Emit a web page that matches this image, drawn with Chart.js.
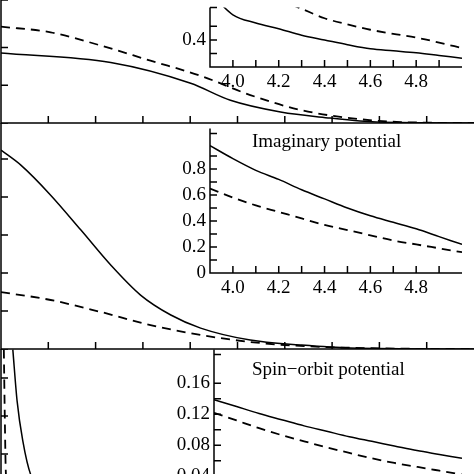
<!DOCTYPE html>
<html><head><meta charset="utf-8">
<script src="https://cdn.jsdelivr.net/npm/chart.js@4.4.1/dist/chart.umd.min.js"></script>
<style>
body{margin:0;width:474px;height:474px;overflow:hidden;background:#fff;position:relative;font-family:"Liberation Serif",serif}
canvas{position:absolute}
.lbl{position:absolute;font-size:19px;color:#000;white-space:nowrap;background:transparent}
</style></head><body>
<canvas id="p1" style="left:0;top:0;width:474px;height:124px"></canvas>
<canvas id="p2" style="left:0;top:123px;width:474px;height:227px"></canvas>
<canvas id="p3" style="left:0;top:349px;width:474px;height:144px"></canvas>
<canvas id="i1" style="left:165px;top:-8px;width:301px;height:103px"></canvas>
<canvas id="i2" style="left:165px;top:118px;width:301px;height:183px"></canvas>
<canvas id="i3" style="left:169px;top:339px;width:297px;height:196px"></canvas>
<div class="lbl" style="left:252px;top:130px">Imaginary potential</div>
<div class="lbl" style="left:252px;top:358px">Spin−orbit potential</div>
<script>
// Main panel 1 (real potential)
const p1SolidX=[0,2.32,4.01,4.85,5.91,6.96,7.59,8.44,10];
const p1SolidY=[0.37,0.32,0.21,0.12,0.058,0.026,0.011,0.002,0];
const p1DashX=[0,1.05,2.11,3.16,4.22,5.27,6.33,7.38,8.44,10];
const p1DashY=[0.51,0.48,0.41,0.33,0.25,0.148,0.069,0.026,0.005,0];
// Main panel 2 (imaginary)
const p2SolidX=[0,0.42,1.05,1.69,2.32,2.95,3.59,4.22,5.27,6.33,7.38,10];
const p2SolidY=[1.047,0.968,0.81,0.626,0.442,0.284,0.179,0.11,0.047,0.021,0.005,0];
const p2DashX=[0,1.05,2.11,3.16,4.22,5.27,6.33,8.44,10];
const p2DashY=[0.3,0.258,0.195,0.126,0.074,0.037,0.016,0.002,0];
// Main panel 3 (spin-orbit)
const p3SolidX=[0.25,0.34,0.46,0.63,0.95,2,10];
const p3SolidY=[0.75,0.48,0.27,0.09,0.01,0,0];
const p3DashX=[0.06,0.08,0.105,0.2];
const p3DashY=[0.75,0.4,0.09,0];
// Insets
const insX=[3.9,4.0,4.1,4.2,4.3,4.4,4.5,4.6,4.7,4.8,4.9,5.0];
const i1Solid=[1.1,0.77,0.65,0.565,0.47,0.40,0.33,0.27,0.24,0.21,0.17,0.13];
const i1Dash=[1.5,1.35,1.18,1.0,0.86,0.72,0.63,0.55,0.49,0.435,0.36,0.28];
const i2Solid=[0.98,0.88,0.79,0.72,0.64,0.57,0.5,0.44,0.39,0.34,0.28,0.22];
const i2Dash=[0.65,0.58,0.52,0.47,0.42,0.37,0.33,0.29,0.25,0.22,0.19,0.16];
const i3Solid=[0.139,0.13,0.121,0.113,0.105,0.098,0.091,0.085,0.079,0.073,0.068,0.063];
const i3Dash=[0.122,0.112,0.102,0.093,0.085,0.077,0.07,0.063,0.057,0.052,0.047,0.042];

const inTicks={id:'inTicks',afterDraw(c){
  const o=c.options.plugins.inTicks;if(!o)return;
  const ctx=c.ctx,ca=c.chartArea;ctx.save();ctx.strokeStyle='#000';ctx.lineWidth=1.5;
  const xs=c.scales.x,ys=c.scales.y;
  ctx.beginPath();ctx.moveTo(ca.left,ca.top-(o.extTop||0));ctx.lineTo(ca.left,ca.bottom);ctx.lineTo(ca.right,ca.bottom);ctx.stroke();
  ctx.beginPath();
  xs.ticks.forEach(t=>{const p=xs.getPixelForValue(t.value);if(p<ca.left+2||p>ca.right-1)return;ctx.moveTo(p,ca.bottom);ctx.lineTo(p,ca.bottom-(o.len||7));});
  ys.ticks.forEach(t=>{const p=ys.getPixelForValue(t.value);if(p>ca.bottom-2||p<ca.top)return;ctx.moveTo(ca.left,p);ctx.lineTo(ca.left+(o.len||7),p);});
  ctx.stroke();ctx.restore();}};
Chart.register(inTicks);

function ds(x,y,dash){return{data:x.map((v,i)=>({x:v,y:y[i]})),borderColor:'#000',borderWidth:dash?1.8:1.5,borderDash:dash?[9,6]:[],pointRadius:0,tension:0.4,cubicInterpolationMode:'monotone',fill:false};}
const font={family:'"Liberation Serif", serif',size:19};

function main(id,sx,sy,dx,dy,ymax){
  new Chart(document.getElementById(id),{type:'line',data:{datasets:[ds(sx,sy,false),ds(dx,dy,true)]},
  options:{responsive:false,animation:false,layout:{padding:{left:1,bottom:1}},
   plugins:{legend:{display:false},tooltip:{enabled:false},inTicks:{len:7}},
   scales:{x:{type:'linear',min:0,max:10,display:false,ticks:{stepSize:1}},
           y:{min:0,max:ymax,display:false,ticks:{stepSize:0.2}}}}});
}
function inset(id,s,d,ymax,ystep,labStep,ydec,showZero,padTop){
  new Chart(document.getElementById(id),{type:'line',data:{datasets:[ds(insX,s,false),ds(insX,d,true)]},
  options:{responsive:false,animation:false,layout:{padding:{top:padTop,right:0}},
   plugins:{legend:{display:false},tooltip:{enabled:false},inTicks:{len:7,extTop:padTop?5:0}},
   scales:{
    x:{type:'linear',min:3.9,max:5.0,grid:{display:false,drawTicks:false},border:{display:false},
       ticks:{stepSize:0.1,autoSkip:false,maxRotation:0,color:'#000',font,padding:4,
         callback:v=>{const k=Math.round(v*10);return (k%2===0&&k>=40&&k<=48)?(k/10).toFixed(1):'';}},
       afterFit:s=>{s.width;s.height=28;}},
    y:{min:0,max:ymax,grid:{display:false,drawTicks:false},border:{display:false},
       ticks:{stepSize:ystep,autoSkip:false,color:'#000',font,padding:4,
         callback:v=>{
           if(Math.abs(v)<1e-9)return showZero?'0':'';
           if(v>ymax-ystep*0.5)return '';
           const r=v/labStep;return Math.abs(r-Math.round(r))<1e-6?v.toFixed(ydec):'';}},
       afterFit:s=>{s.width=45;}}}}});
}
main('p1',p1SolidX,p1SolidY,p1DashX,p1DashY,0.651);
main('p2',p2SolidX,p2SolidY,p2DashX,p2DashY,1.19);
main('p3',p3SolidX,p3SolidY,p3DashX,p3DashY,0.753);
inset('i1',i1Solid,i1Dash,0.88,0.2,0.4,1,false,0);
inset('i2',i2Solid,i2Dash,1.074,0.1,0.2,1,true,10);
inset('i3',i3Solid,i3Dash,0.1975,0.02,0.04,2,false,10);
</script></body></html>
